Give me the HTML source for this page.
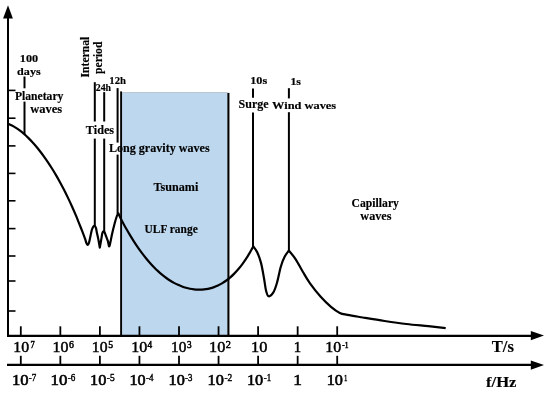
<!DOCTYPE html>
<html><head><meta charset="utf-8"><title>Ocean wave spectrum</title>
<style>
html,body{margin:0;padding:0;background:#fff;}
svg{display:block;}
text{font-family:"Liberation Serif","DejaVu Serif",serif;font-weight:bold;fill:#000;}
text.b{stroke:#000;stroke-width:0.15px;}
text.n{font-weight:normal;stroke:#000;stroke-width:0.5px;}
text.d{font-weight:normal;stroke:#000;stroke-width:0.6px;}
text.s{font-weight:normal;stroke:#000;stroke-width:0.4px;}
</style></head><body>
<svg width="550" height="393" viewBox="0 0 550 393">
<rect width="550" height="393" fill="#fff"/>
<rect x="122" y="92" width="105.3" height="243" fill="#bdd7ee"/>
<rect x="122" y="92.1" width="105.3" height="0.9" fill="#bcc5cf"/>
<path d="M8,336.8 V17" stroke="#000" stroke-width="2" fill="none"/>
<path d="M8,5.3 L3.1,18.6 L12.9,18.6 Z" fill="#000"/>
<path d="M7,335.8 H532" stroke="#000" stroke-width="2.2" fill="none"/>
<path d="M544,335.6 L530.8,331 L530.8,340.2 Z" fill="#000"/>
<path d="M7,364.9 H532" stroke="#000" stroke-width="2.2" fill="none"/>
<path d="M544,365.1 L530.8,360.5 L530.8,369.7 Z" fill="#000"/>
<path d="M8,90.4 H15.5" stroke="#000" stroke-width="1.6"/>
<path d="M8,118.2 H15.5" stroke="#000" stroke-width="1.6"/>
<path d="M8,145.9 H15.5" stroke="#000" stroke-width="1.6"/>
<path d="M8,173.4 H15.5" stroke="#000" stroke-width="1.6"/>
<path d="M8,200.8 H15.5" stroke="#000" stroke-width="1.6"/>
<path d="M8,228.6 H15.5" stroke="#000" stroke-width="1.6"/>
<path d="M8,256.0 H15.5" stroke="#000" stroke-width="1.6"/>
<path d="M8,281.0 H15.5" stroke="#000" stroke-width="1.6"/>
<path d="M8,311.0 H15.5" stroke="#000" stroke-width="1.6"/>
<path d="M20.80,335 V326.3" stroke="#000" stroke-width="1.8"/>
<path d="M20.80,365 V355.8" stroke="#000" stroke-width="1.8"/>
<path d="M60.35,335 V326.3" stroke="#000" stroke-width="1.8"/>
<path d="M60.35,365 V355.8" stroke="#000" stroke-width="1.8"/>
<path d="M99.90,335 V326.3" stroke="#000" stroke-width="1.8"/>
<path d="M99.90,365 V355.8" stroke="#000" stroke-width="1.8"/>
<path d="M139.45,335 V326.3" stroke="#000" stroke-width="1.8"/>
<path d="M139.45,365 V355.8" stroke="#000" stroke-width="1.8"/>
<path d="M179.00,335 V326.3" stroke="#000" stroke-width="1.8"/>
<path d="M179.00,365 V355.8" stroke="#000" stroke-width="1.8"/>
<path d="M218.55,335 V326.3" stroke="#000" stroke-width="1.8"/>
<path d="M218.55,365 V355.8" stroke="#000" stroke-width="1.8"/>
<path d="M258.10,335 V326.3" stroke="#000" stroke-width="1.8"/>
<path d="M258.10,365 V355.8" stroke="#000" stroke-width="1.8"/>
<path d="M297.65,335 V326.3" stroke="#000" stroke-width="1.8"/>
<path d="M297.65,365 V355.8" stroke="#000" stroke-width="1.8"/>
<path d="M337.20,335 V326.3" stroke="#000" stroke-width="1.8"/>
<path d="M337.20,365 V355.8" stroke="#000" stroke-width="1.8"/>
<path d="M24.5,76.5 V88.3" stroke="#000" stroke-width="2"/>
<path d="M24.5,101.6 V134.0" stroke="#000" stroke-width="2"/>
<path d="M94.8,82.2 V121.5" stroke="#000" stroke-width="2"/>
<path d="M94.8,138.6 V226.5" stroke="#000" stroke-width="2"/>
<path d="M104.2,92.1 V121.5" stroke="#000" stroke-width="2"/>
<path d="M104.2,138.6 V232.0" stroke="#000" stroke-width="2"/>
<path d="M117.6,88.1 V142.6" stroke="#000" stroke-width="2"/>
<path d="M117.6,154.6 V214.0" stroke="#000" stroke-width="2"/>
<path d="M253.0,88.4 V97.8" stroke="#000" stroke-width="2"/>
<path d="M253.0,112.6 V247.0" stroke="#000" stroke-width="2"/>
<path d="M288.9,88.2 V98.4" stroke="#000" stroke-width="2"/>
<path d="M288.9,112.2 V251.0" stroke="#000" stroke-width="2"/>
<path d="M121.1,91.4 V336" stroke="#000" stroke-width="1.9"/>
<path d="M228.4,92.9 V336" stroke="#000" stroke-width="2.1"/>
<path d="M8.00,123.60 C8.67,123.92 10.67,124.80 12.00,125.51 C13.33,126.22 14.67,127.01 16.00,127.87 C17.33,128.73 18.67,129.68 20.00,130.69 C21.33,131.70 22.67,132.79 24.00,133.95 C25.33,135.11 26.67,136.33 28.00,137.63 C29.33,138.93 30.67,140.31 32.00,141.75 C33.33,143.19 34.67,144.70 36.00,146.28 C37.33,147.86 38.67,149.51 40.00,151.22 C41.33,152.93 42.67,154.71 44.00,156.56 C45.33,158.41 46.67,160.32 48.00,162.31 C49.33,164.30 50.67,166.36 52.00,168.49 C53.33,170.62 54.67,172.83 56.00,175.12 C57.33,177.41 58.67,179.77 60.00,182.21 C61.33,184.65 62.67,187.17 64.00,189.78 C65.33,192.39 66.67,195.08 68.00,197.86 C69.33,200.64 70.67,203.50 72.00,206.46 C73.33,209.42 74.90,212.98 76.00,215.59 C77.10,218.20 77.55,219.48 78.60,222.10 C79.65,224.72 81.23,228.55 82.30,231.30 C83.37,234.05 84.32,236.65 85.00,238.60 C85.68,240.55 85.97,241.95 86.40,243.00 C86.83,244.05 87.20,244.83 87.60,244.90 C88.00,244.97 88.47,244.17 88.80,243.40 C89.13,242.63 89.32,241.55 89.60,240.30 C89.88,239.05 90.12,237.65 90.50,235.90 C90.88,234.15 91.43,231.35 91.90,229.80 C92.37,228.25 92.82,227.25 93.30,226.60 C93.78,225.95 94.35,225.63 94.80,225.90 C95.25,226.17 95.65,227.07 96.00,228.20 C96.35,229.33 96.52,230.88 96.90,232.70 C97.28,234.52 97.82,236.62 98.30,239.10 C98.78,241.58 99.55,246.18 99.80,247.60 C100.03,246.30 100.78,242.17 101.20,239.80 C101.62,237.43 101.92,234.82 102.30,233.40 C102.68,231.98 103.12,231.48 103.50,231.30 C103.88,231.12 104.22,231.60 104.60,232.30 C104.98,233.00 105.25,234.02 105.80,235.50 C106.35,236.98 107.30,239.42 107.90,241.20 C108.50,242.98 108.73,247.28 109.40,246.20 C110.07,245.12 111.05,238.40 111.90,234.70 C112.75,231.00 113.70,227.03 114.50,224.00 C115.30,220.97 116.07,218.28 116.70,216.50 C117.33,214.72 118.03,213.83 118.30,213.30 C118.92,214.59 120.72,218.54 122.00,221.04 C123.28,223.54 124.67,225.97 126.00,228.32 C127.33,230.67 128.67,232.95 130.00,235.16 C131.33,237.37 132.67,239.50 134.00,241.56 C135.33,243.62 136.67,245.61 138.00,247.53 C139.33,249.45 140.67,251.29 142.00,253.07 C143.33,254.85 144.67,256.55 146.00,258.19 C147.33,259.83 148.67,261.40 150.00,262.90 C151.33,264.40 152.67,265.83 154.00,267.20 C155.33,268.57 156.67,269.87 158.00,271.11 C159.33,272.35 160.67,273.51 162.00,274.62 C163.33,275.73 164.67,276.76 166.00,277.74 C167.33,278.72 168.67,279.64 170.00,280.49 C171.33,281.34 172.67,282.13 174.00,282.86 C175.33,283.59 176.67,284.26 178.00,284.87 C179.33,285.48 180.67,286.02 182.00,286.51 C183.33,287.00 184.67,287.43 186.00,287.80 C187.33,288.17 188.67,288.49 190.00,288.75 C191.33,289.01 192.67,289.21 194.00,289.35 C195.33,289.50 196.67,289.59 198.00,289.62 C199.33,289.65 200.67,289.64 202.00,289.56 C203.33,289.48 204.67,289.35 206.00,289.15 C207.33,288.95 208.67,288.69 210.00,288.35 C211.33,288.02 212.67,287.62 214.00,287.14 C215.33,286.66 216.67,286.12 218.00,285.49 C219.33,284.86 220.67,284.16 222.00,283.37 C223.33,282.58 224.67,281.71 226.00,280.75 C227.33,279.79 228.67,278.74 230.00,277.60 C231.33,276.46 232.67,275.23 234.00,273.89 C235.33,272.55 236.67,271.13 238.00,269.58 C239.33,268.03 240.67,266.38 242.00,264.60 C243.33,262.82 244.67,260.93 246.00,258.90 C247.33,256.87 248.78,254.49 250.00,252.41 C251.22,250.33 252.75,247.40 253.30,246.40 C253.95,247.53 255.92,249.48 257.20,252.20 C258.48,254.92 259.87,258.57 261.00,262.90 C262.13,267.23 263.17,273.62 264.00,278.20 C264.83,282.78 265.23,287.40 266.00,290.40 C266.77,293.40 267.40,295.82 268.60,296.20 C269.80,296.58 271.80,294.95 273.20,292.70 C274.60,290.45 275.73,287.03 277.00,282.70 C278.27,278.37 279.53,271.02 280.80,266.70 C282.07,262.38 283.25,259.48 284.60,256.80 C285.95,254.12 288.18,251.63 288.90,250.60 C290.03,252.05 293.38,255.78 295.70,259.30 C298.02,262.82 300.42,267.70 302.80,271.70 C305.18,275.70 307.02,279.13 310.00,283.30 C312.98,287.47 317.20,292.78 320.70,296.70 C324.20,300.62 327.82,304.10 331.00,306.80 C334.18,309.50 337.05,311.55 339.80,312.90 C342.55,314.25 343.67,314.13 347.50,314.90 C351.33,315.67 356.62,316.48 362.80,317.50 C368.98,318.52 377.33,319.92 384.60,321.00 C391.87,322.08 399.12,323.13 406.40,324.00 C413.68,324.87 421.75,325.52 428.30,326.20 C434.85,326.88 442.80,327.78 445.70,328.10" stroke="#000" stroke-width="2.2" fill="none" stroke-linejoin="round"/>
<text id="100" x="19.80" y="61.80" font-size="10.81" textLength="18.30" lengthAdjust="spacingAndGlyphs" class="b">100</text>
<text id="days" x="17.10" y="74.90" font-size="10.36" textLength="23.55" lengthAdjust="spacingAndGlyphs" class="b">days</text>
<text id="plan" x="14.90" y="99.50" font-size="11.41" textLength="48.55" lengthAdjust="spacingAndGlyphs" class="b">Planetary</text>
<text id="wav1" x="30.20" y="113.10" font-size="11.57" textLength="31.95" lengthAdjust="spacingAndGlyphs" class="b">waves</text>
<text id="24h" x="95.75" y="90.60" font-size="10.16" textLength="15.30" lengthAdjust="spacingAndGlyphs" class="b">24h</text>
<text id="12h" x="109.35" y="84.10" font-size="10.16" textLength="16.70" lengthAdjust="spacingAndGlyphs" class="b">12h</text>
<text id="tides" x="85.85" y="134.40" font-size="11.91" textLength="28.25" lengthAdjust="spacingAndGlyphs" class="b">Tides</text>
<text id="long" x="108.90" y="152.10" font-size="11.41" textLength="100.75" lengthAdjust="spacingAndGlyphs" class="b">Long gravity waves</text>
<text id="tsu" x="153.55" y="191.40" font-size="12.11" textLength="44.80" lengthAdjust="spacingAndGlyphs" class="b">Tsunami</text>
<text id="ulf" x="144.55" y="233.10" font-size="12.11" textLength="53.15" lengthAdjust="spacingAndGlyphs" class="b">ULF range</text>
<text id="10s" x="250.30" y="84.20" font-size="10.06" textLength="16.90" lengthAdjust="spacingAndGlyphs" class="b">10s</text>
<text id="1s" x="290.45" y="84.80" font-size="10.06" textLength="10.55" lengthAdjust="spacingAndGlyphs" class="b">1s</text>
<text id="surge" x="238.60" y="108.10" font-size="11.79" textLength="29.90" lengthAdjust="spacingAndGlyphs" class="b">Surge</text>
<text id="wind" x="272.05" y="108.50" font-size="11.34" textLength="64.15" lengthAdjust="spacingAndGlyphs" class="b">Wind waves</text>
<text id="cap" x="351.60" y="207.10" font-size="11.47" textLength="47.30" lengthAdjust="spacingAndGlyphs" class="b">Capillary</text>
<text id="wav2" x="360.30" y="220.00" font-size="11.98" textLength="31.25" lengthAdjust="spacingAndGlyphs" class="b">waves</text>
<text id="ts" x="491.75" y="352.30" font-size="16.67" textLength="22.20" lengthAdjust="spacingAndGlyphs" class="b">T/s</text>
<text id="fhz" x="486.00" y="387.30" font-size="15.10" textLength="30.40" lengthAdjust="spacingAndGlyphs" class="b">f/Hz</text>
<text id="int" x="88.80" y="77.48" font-size="11.91" textLength="40.70" lengthAdjust="spacingAndGlyphs" class="b" transform="rotate(-90 88.80 77.48)">Internal</text>
<text id="per" x="102.30" y="73.89" font-size="12.21" textLength="32.30" lengthAdjust="spacingAndGlyphs" class="b" transform="rotate(-90 102.30 73.89)">period</text>
<text id="t0" x="13.25" y="352.40" font-size="15.55" textLength="15.85" lengthAdjust="spacingAndGlyphs" class="n">10</text>
<text id="ts0" x="30.45" y="348.20" font-size="9.52" textLength="4.25" lengthAdjust="spacingAndGlyphs" class="n">7</text>
<text id="t1" x="52.55" y="352.40" font-size="15.55" textLength="15.90" lengthAdjust="spacingAndGlyphs" class="n">10</text>
<text id="ts1" x="68.90" y="348.20" font-size="9.50" textLength="4.90" lengthAdjust="spacingAndGlyphs" class="n">6</text>
<text id="t2" x="91.85" y="352.40" font-size="15.55" textLength="15.65" lengthAdjust="spacingAndGlyphs" class="n">10</text>
<text id="ts2" x="108.15" y="348.20" font-size="9.52" textLength="4.85" lengthAdjust="spacingAndGlyphs" class="n">5</text>
<text id="t3" x="131.25" y="352.40" font-size="15.55" textLength="16.05" lengthAdjust="spacingAndGlyphs" class="n">10</text>
<text id="ts3" x="147.50" y="348.20" font-size="9.50" textLength="4.65" lengthAdjust="spacingAndGlyphs" class="n">4</text>
<text id="t4" x="171.00" y="352.40" font-size="15.55" textLength="15.30" lengthAdjust="spacingAndGlyphs" class="n">10</text>
<text id="ts4" x="186.90" y="348.20" font-size="9.50" textLength="4.60" lengthAdjust="spacingAndGlyphs" class="n">3</text>
<text id="t5" x="209.05" y="352.40" font-size="15.55" textLength="16.20" lengthAdjust="spacingAndGlyphs" class="n">10</text>
<text id="ts5" x="225.70" y="348.20" font-size="9.50" textLength="5.15" lengthAdjust="spacingAndGlyphs" class="n">2</text>
<text id="t6" x="251.05" y="352.40" font-size="15.55" textLength="16.35" lengthAdjust="spacingAndGlyphs" class="n">10</text>
<text id="t7" x="293.85" y="352.40" font-size="15.54" textLength="7.40" lengthAdjust="spacingAndGlyphs" class="n">1</text>
<text id="t8" x="325.20" y="352.40" font-size="15.55" textLength="15.95" lengthAdjust="spacingAndGlyphs" class="n">10</text>
<text id="ts8" x="342.20" y="348.00" font-size="8.24" textLength="6.25" lengthAdjust="spacingAndGlyphs" class="n">-1</text>
<text id="b0" x="11.90" y="385.00" font-size="15.52" textLength="16.60" lengthAdjust="spacingAndGlyphs" class="d">10</text>
<text id="bs0" x="28.75" y="380.60" font-size="9.83" textLength="7.45" lengthAdjust="spacingAndGlyphs" class="s">-7</text>
<text id="b1" x="50.55" y="385.00" font-size="15.52" textLength="16.85" lengthAdjust="spacingAndGlyphs" class="d">10</text>
<text id="bs1" x="67.70" y="380.60" font-size="9.49" textLength="7.60" lengthAdjust="spacingAndGlyphs" class="s">-6</text>
<text id="b2" x="90.00" y="385.00" font-size="15.52" textLength="16.30" lengthAdjust="spacingAndGlyphs" class="d">10</text>
<text id="bs2" x="106.75" y="380.60" font-size="9.51" textLength="7.85" lengthAdjust="spacingAndGlyphs" class="s">-5</text>
<text id="b3" x="129.50" y="385.00" font-size="15.52" textLength="16.10" lengthAdjust="spacingAndGlyphs" class="d">10</text>
<text id="bs3" x="145.90" y="380.60" font-size="9.51" textLength="7.50" lengthAdjust="spacingAndGlyphs" class="s">-4</text>
<text id="b4" x="168.50" y="385.00" font-size="15.52" textLength="16.25" lengthAdjust="spacingAndGlyphs" class="d">10</text>
<text id="bs4" x="185.05" y="380.60" font-size="9.49" textLength="7.30" lengthAdjust="spacingAndGlyphs" class="s">-3</text>
<text id="b5" x="207.55" y="385.00" font-size="15.52" textLength="16.30" lengthAdjust="spacingAndGlyphs" class="d">10</text>
<text id="bs5" x="224.40" y="380.60" font-size="9.49" textLength="7.85" lengthAdjust="spacingAndGlyphs" class="s">-2</text>
<text id="b6" x="246.90" y="385.00" font-size="15.52" textLength="16.30" lengthAdjust="spacingAndGlyphs" class="d">10</text>
<text id="bs6" x="263.75" y="380.60" font-size="9.51" textLength="7.35" lengthAdjust="spacingAndGlyphs" class="s">-1</text>
<text id="b7" x="293.35" y="385.00" font-size="15.52" textLength="8.60" lengthAdjust="spacingAndGlyphs" class="d">1</text>
<text id="b8" x="326.70" y="385.00" font-size="15.52" textLength="16.25" lengthAdjust="spacingAndGlyphs" class="d">10</text>
<text id="bs8" x="344.00" y="380.50" font-size="9.21" textLength="3.40" lengthAdjust="spacingAndGlyphs" class="s">1</text>
</svg>
</body></html>
